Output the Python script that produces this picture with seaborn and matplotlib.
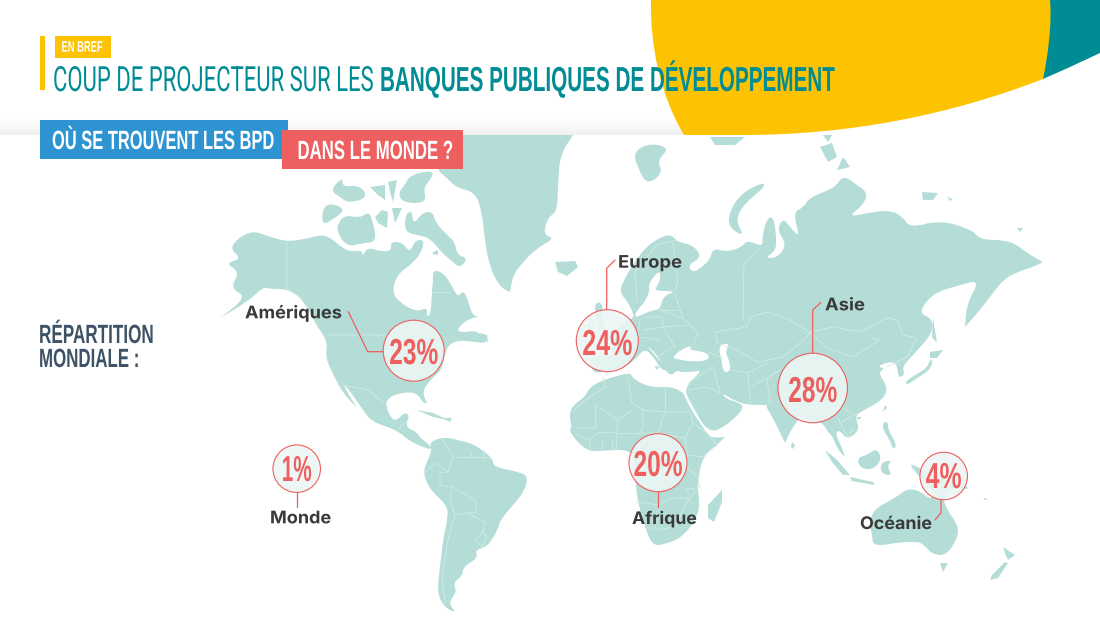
import numpy as np
import pandas as pd
import matplotlib
matplotlib.use('Agg')
import matplotlib.pyplot as plt
import matplotlib.patheffects as pe
from matplotlib.colors import LinearSegmentedColormap
from matplotlib.patches import PathPatch
from matplotlib.path import Path
from matplotlib.transforms import Affine2D
import seaborn as sns

# --- Data ---
regions = ['Amériques', 'Monde', 'Europe', 'Asie', 'Afrique', 'Océanie']
shares = [23, 1, 24, 28, 20, 4]
bubble_x = [413.7, 296.7, 607.3, 812.7, 658.0, 943.7]
bubble_y = [350.7, 468.7, 340.7, 388.0, 462.7, 476.0]

# --- Map outlines (x, y in image pixels) ---
north_america = [(250,230),(268,236),(287,242),(310,238),(320,235),(330,237),(347,252),(362,250),(363,257),(367,247),
    (382,252),(392,250),(390,242),(402,242),(410,253),(415,240),(425,240),(420,255),(412,263),(410,265),(397,275),
    (392,292),(400,303),(417,312),(427,307),(427,318),(431,313),(432,290),(433,282),(433,270),(442,272),(450,282),
    (458,298),(463,290),(468,300),(472,315),(480,317),(470,318),(457,328),(460,333),(477,330),(488,342),(480,343),
    (463,340),(450,343),(445,353),(442,370),(430,380),(422,392),(427,403),(427,403),(423,403),(417,393),(403,392),(387,398),
    (386,408),(393,421),(400,418),(403,413),(410,414),(405,427),(417,432),(420,438),(430,445),(432,450),(420,446),
    (408,440),(397,430),(372,422),(363,410),(347,387),(343,385),(357,408),(357,408),(343,393),(335,378),(325,357),(328,342),
    (315,323),(312,315),(300,297),(287,289),(270,289),(263,287),(250,300),(220,318),(220,318),(247,297),(230,288),(240,272),
    (225,263),(242,259),(228,247)]
south_america = [(430,445),(433,440),(447,437),(460,441),(472,443),(493,458),(493,467),(520,472),(528,477),(525,490),
    (515,503),(500,520),(498,530),(487,547),(475,550),(478,558),(463,567),(463,575),(453,583),(457,592),(448,603),
    (457,613),(445,608),(437,593),(440,567),(443,540),(448,517),(447,505),(430,490),(423,473),(427,462),(432,450)]
greenland = [(463,135),(463,135),(573,135),(573,135),(560,155),(558,185),(557,212),(548,217),(543,235),(555,238),(537,248),(523,262),
    (513,275),(510,292),(510,292),(500,287),(490,268),(485,242),(482,212),(475,192),(457,188),(447,178),(437,170),(440,160)]
africa = [(597,382),(588,390),(585,397),(573,405),(569,415),(572,428),(569,430),(577,442),(590,452),(610,450),(628,450),
    (635,458),(636,495),(645,527),(652,545),(663,545),(683,537),(697,517),(700,503),(697,487),(702,457),(717,445),
    (725,437),(725,437),(710,438),(703,427),(693,413),(683,393),(683,393),(675,388),(665,387),(652,387),(640,383),(632,377),(630,372)]
eurasia = [(592,373),(605,372),(625,367),(637,358),(643,350),(650,352),(663,372),(667,368),(650,350),(647,345),(660,358),
    (668,376),(677,372),(680,362),(672,362),(675,372),(693,372),(702,370),(692,380),(688,385),(685,392),(693,407),
    (708,433),(725,427),(745,408),(738,402),(728,400),(720,392),(737,402),(750,405),(770,405),(765,405),(773,418),
    (785,443),(785,443),(792,428),(802,415),(810,422),(822,422),(828,432),(833,437),(838,450),(845,457),(845,457),(842,448),(835,433),
    (840,430),(847,440),(860,430),(855,417),(860,412),(883,400),(888,387),(878,373),(885,368),(877,367),(887,362),
    (897,363),(898,378),(905,375),(902,367),(913,355),(933,333),(932,318),(918,313),(933,293),(960,285),(980,280),
    (967,303),(965,327),(965,327),(980,310),(993,293),(1003,280),(1017,272),(1033,267),(1043,262),(1043,262),(1030,255),(1010,240),(980,240),
    (973,230),(940,220),(910,228),(903,217),(890,210),(867,213),(848,217),(863,205),(868,193),(857,185),(843,175),
    (835,188),(810,197),(803,208),(793,212),(800,238),(790,227),(783,218),(777,230),(787,245),(777,258),(765,258),
    (773,253),(777,245),(774,217),(767,218),(762,237),(763,247),(747,240),(742,247),(727,252),(713,248),(710,260),
    (698,270),(692,272),(688,265),(702,257),(693,245),(677,242),(670,233),(650,243),(637,258),(622,283),(620,293),
    (628,302),(635,317),(628,320),(620,327),(610,332),(607,337),(617,347),(610,347),(615,357),(597,355),(590,358)]
australia = [(872,510),(897,497),(908,488),(922,492),(930,500),(942,490),(945,507),(958,525),(958,537),(947,555),(933,555),
    (922,543),(917,542),(900,542),(873,547),(872,533),(870,528)]
islands = [
    [(405,185),(410,175),(433,170),(432,178),(423,188),(427,203),(403,203),(398,193)],
    [(388,182),(397,180),(393,202),(390,192)],
    [(370,187),(385,185),(385,200),(378,195)],
    [(330,190),(343,177),(342,187),(360,185),(368,198),(348,203),(340,197)],
    [(325,205),(335,204),(345,210),(335,218),(323,225),(322,215)],
    [(338,223),(345,215),(360,218),(368,212),(372,218),(377,242),(363,243),(347,247),(337,232)],
    [(375,217),(382,210),(388,212),(387,228),(378,223)],
    [(392,208),(402,208),(395,223)],
    [(405,215),(412,210),(413,225),(423,212),(433,212),(435,222),(447,235),(455,242),(457,255),(468,258),(460,268),
     (453,262),(442,253),(430,238),(417,235),(405,232)],
    [(433,252),(438,250),(438,255),(433,254)],
    [(480,333),(487,335),(488,342),(483,340)],
    [(555,262),(575,261),(578,267),(567,276),(558,272)],
    [(417,410),(433,413),(448,420),(433,417)],
    [(442,418),(452,418),(450,422)],
    [(595,302),(603,303),(602,320),(607,330),(598,333),(600,323),(595,317)],
    [(592,318),(595,323),(592,330),(587,328)],
    [(722,490),(722,502),(714,522),(708,518),(708,505)],
    [(633,152),(650,143),(670,148),(657,160),(663,173),(647,185),(638,168)],
    [(710,137),(745,137),(735,145),(715,145)],
    [(823,135),(832,135),(828,142)],
    [(820,147),(832,143),(837,157),(828,162)],
    [(843,157),(850,167),(837,170)],
    [(763,182),(765,187),(745,203),(735,220),(745,237),(728,227),(730,210),(742,193)],
    [(922,192),(938,193),(933,200),(923,200)],
    [(947,197),(953,199),(950,201)],
    [(1017,228),(1023,228),(1020,232)],
    [(933,317),(937,343),(932,337)],
    [(930,352),(943,350),(937,358),(930,358)],
    [(933,360),(930,370),(917,378),(907,385),(905,382),(915,375),(927,368),(930,360)],
    [(885,405),(887,408),(883,412)],
    [(857,417),(862,417),(858,420)],
    [(883,422),(888,422),(888,430),(897,445),(893,450),(890,440),(883,430)],
    [(857,458),(867,455),(877,448),(882,460),(872,470),(860,468)],
    [(825,450),(837,460),(850,475),(843,475),(832,462)],
    [(850,477),(873,482),(875,485),(852,481)],
    [(882,462),(892,460),(887,466),(892,475),(885,475),(880,470)],
    [(908,463),(920,468),(943,480),(963,482),(970,490),(957,487),(940,497),(928,488),(920,477)],
    [(792,442),(795,445),(793,449),(791,447)],
    [(1003,547),(1015,555),(1008,560),(1005,553)],
    [(1005,562),(1008,563),(998,578),(990,580),(992,575)],
    [(940,563),(948,563),(943,572)],
    [(655,366),(660,367),(656,370)],
    [(983,497),(988,500),(985,500)],
]
inland_seas = [
    [(680,350),(693,345),(688,350),(707,352),(710,360),(693,362),(675,359),(673,357)],
    [(718,345),(730,343),(725,352),(730,362),(730,372),(723,372),(722,362)],
    [(648,285),(657,272),(661,273),(659,284),(653,291),(677,291),(663,296),(660,310),(652,310),(640,316),(634,317),
     (638,309),(645,302),(650,290)],
]
borders = [
    [(287,242),(287,289),(300,297),(312,315)],
    [(328,335),(383,335),(400,342)],
    [(432,292),(450,292)],
    [(343,385),(368,390),(383,402)],
    [(397,430),(408,420)],
    [(442,438),(453,457),(448,472),(440,473),(440,485),(452,487),(463,493),(475,500),(477,512),(467,513)],
    [(452,487),(450,500),(455,515),(467,513),(485,522),(483,532),(475,540),(482,547)],
    [(483,532),(487,537),(482,547)],
    [(455,515),(448,540),(442,577),(445,603)],
    [(424,473),(437,463),(448,472)],
    [(453,457),(470,457),(490,457)],
    [(470,450),(472,458)],[(483,450),(483,460)],
    [(603,377),(605,387),(588,398),(572,412)],
    [(628,378),(632,403),(643,410),(665,412),(690,412)],
    [(595,405),(618,420),(632,410)],
    [(595,405),(596,428),(577,428)],
    [(665,388),(665,412)],
    [(643,410),(643,427),(640,433),(658,433),(663,417),(665,412)],
    [(618,420),(617,432),(597,433),(590,440)],
    [(617,433),(616,450)],[(640,433),(617,433)],
    [(602,440),(602,450)],[(612,438),(612,450)],
    [(577,435),(590,440),(590,452)],
    [(690,412),(693,423),(685,438),(658,433)],
    [(693,423),(707,433),(717,445),(702,457),(687,455),(685,438)],
    [(658,433),(652,455),(660,480)],
    [(687,455),(688,468),(698,478),(700,487),(685,490)],
    [(636,502),(660,505),(670,498),(685,498),(692,503)],
    [(645,528),(655,528),(657,510)],
    [(655,530),(675,527),(683,510),(688,500)],
    [(688,487),(688,500),(697,490)],
    [(688,383),(713,367),(720,393)],
    [(688,390),(707,387),(720,393)],
    [(748,373),(750,397),(750,405)],
    [(732,370),(748,373),(767,363)],
    [(770,405),(767,378),(780,370)],
    [(750,387),(767,378)],
    [(715,332),(717,343),(737,350),(757,362),(783,357),(807,337),(810,332)],
    [(715,332),(747,327),(750,317),(768,312),(790,320),(810,332),(833,327),(860,332),(887,318),(897,320),(903,335),
     (917,338),(907,357),(887,367)],
    [(810,332),(827,348),(853,357),(880,340),(872,338)],
    [(825,422),(840,407),(853,413)],
    [(838,418),(848,438),(853,428)],
    [(840,423),(858,413)],
    [(675,295),(683,318),(698,333),(693,345)],
    [(660,310),(683,318)],[(663,327),(688,325)],
    [(643,317),(662,317),(663,327),(643,330)],
    [(663,327),(675,347)],[(660,340),(640,337)],
    [(640,320),(638,337)],
    [(677,240),(657,245),(635,272),(637,302)],
    [(673,243),(678,280),(675,290)],
    [(660,310),(678,310)],
    [(657,357),(673,347)],
    [(708,352),(723,358)],
    [(743,320),(744,263),(762,247)],
]

# --- Colours ---
LAND = '#B4DDD7'
BORDER = '#D3EBE7'
TEAL = '#008C95'
YELLOW = '#FDC300'
BLUE = '#2E93D1'
CORAL = '#EE5F5F'
DARK = '#3A3A3A'
SLATE = '#3E5266'

sns.set_theme(style='white')
NARROW = ['Liberation Sans Narrow', 'Liberation Sans', 'DejaVu Sans']
LABEL_FONT = ['Inter', 'Lato', 'DejaVu Sans']
LIGHT_FONT = ['Roboto', 'Liberation Sans', 'DejaVu Sans']

fig = plt.figure(figsize=(11, 6.28), dpi=100)
ax = fig.add_axes([0, 0, 1, 1])
ax.set_axis_off()


class Tall(pe.AbstractPathEffect):
    # no condensed font here, so the glyphs are stretched upward from the baseline
    def __init__(self, sy):
        super().__init__()
        self.sy = sy

    def draw_path(self, renderer, gc, tpath, affine, rgbFace=None):
        renderer.draw_path(gc, tpath, Affine2D().scale(1, self.sy) + affine, rgbFace)


def fit_text(x, baseline, s, width, cap, color, family=NARROW, weight='bold', ha='left', z=10):
    t = ax.text(x, baseline, s, color=color, family=family, weight=weight, fontsize=10,
                ha=ha, va='baseline', zorder=z)
    w = t.get_window_extent(fig.canvas.get_renderer()).width
    size = 10 * width / w
    t.set_fontsize(size)
    t.set_path_effects([Tall(cap / (0.72 * size * 100 / 72))])
    return t


def land_patch(points, color, z):
    # rounded coastlines: quadratic curves through the edge midpoints
    pts = np.array(points, dtype=float)
    if len(pts) < 6:
        return plt.Polygon(pts, closed=True, facecolor=color, lw=0, zorder=z)
    mids = (pts + np.roll(pts, -1, axis=0)) / 2
    verts = [mids[-1]]
    codes = [Path.MOVETO]
    for p, m in zip(pts, mids):
        verts += [p, m]
        codes += [Path.CURVE3, Path.CURVE3]
    return PathPatch(Path(verts, codes), facecolor=color, lw=0, zorder=z)


# --- Header shapes ---
ax.imshow(np.linspace(0, 1, 17).reshape(-1, 1), extent=(0, 690, 135, 118), aspect='auto', origin='upper',
          cmap=LinearSegmentedColormap.from_list('band', ['#FFFFFF', '#F1F1F1']), zorder=0)
ax.fill([1040, 1100, 1100, 1070, 1043], [0, 0, 53, 67, 79], color=TEAL, lw=0, zorder=1)
yellow = Path([(651, 0), (650, 45), (660, 95), (684, 135), (742, 135), (850, 135), (950, 115), (1043, 79),
               (1048, 55), (1052, 25), (1050, 0), (651, 0)],
              [Path.MOVETO, Path.CURVE4, Path.CURVE4, Path.CURVE4, Path.LINETO, Path.CURVE4, Path.CURVE4, Path.CURVE4,
               Path.CURVE4, Path.CURVE4, Path.CURVE4, Path.CLOSEPOLY])
ax.add_patch(PathPatch(yellow, facecolor=YELLOW, lw=0, zorder=2))

# --- Map ---
for shape in [north_america, south_america, greenland, africa, eurasia, australia] + islands:
    ax.add_patch(land_patch(shape, LAND, 3))
for shape in inland_seas:
    ax.add_patch(land_patch(shape, 'white', 4))
for line in borders:
    xs, ys = zip(*line)
    ax.plot(xs, ys, color=BORDER, lw=0.6, zorder=5)

# --- Bubbles ---
df = pd.DataFrame({'region': regions, 'share': shares, 'x': bubble_x, 'y': bubble_y})
diam = {23: 61, 1: 47.5, 24: 62, 28: 69.5, 20: 58, 4: 47.5}
sns.scatterplot(data=df, x='x', y='y', size='share', sizes={k: (v * 0.72) ** 2 for k, v in diam.items()},
                facecolor=(0.93, 0.97, 0.96, 0.88), edgecolor=CORAL, linewidth=0.8, legend=False, ax=ax, zorder=7)

# --- Leader lines ---
leaders = {
    'Amériques': ([348.3, 367.7, 382.7], [311.7, 351.7, 351.7]),
    'Monde': ([296.7, 296.7], [491.7, 507.3]),
    'Europe': ([615, 606.7, 606.7], [260, 268.3, 310]),
    'Asie': ([821, 812.7, 812.7], [302.3, 310, 353.3]),
    'Afrique': ([658, 658], [491.7, 507.3]),
    'Océanie': ([941, 941, 935], [499.3, 512.7, 520]),
}
for name in regions:
    ax.plot(*leaders[name], color=CORAL, lw=0.9, zorder=6)

# --- Labels ---
label_pos = {'Amériques': (245, 318.3, 97), 'Monde': (270, 523.3, 61), 'Europe': (618, 267.7, 64),
             'Asie': (825, 310.3, 40), 'Afrique': (632, 524, 65), 'Océanie': (860, 529, 72)}
for name in regions:
    px, py, w = label_pos[name]
    fit_text(px, py, name, w, 12.5, DARK, family=LABEL_FONT)

pct_width = {23: 49, 1: 30, 24: 50, 28: 49, 20: 49, 4: 36}
pct_base = {23: 364, 1: 481, 24: 355, 28: 402, 20: 476, 4: 488}
for share, cx in zip(shares, bubble_x):
    fit_text(cx, pct_base[share], f'{share}%', pct_width[share], 26, CORAL, ha='center')

fit_text(39, 343, 'RÉPARTITION', 114, 19, SLATE)
fit_text(39, 367, 'MONDIALE :', 100, 19, SLATE)

# --- Header text and boxes ---
ax.fill([40, 45, 45, 40], [36, 36, 90, 90], color=YELLOW, lw=0, zorder=8)
ax.fill([55, 111, 111, 55], [36, 36, 58, 58], color=YELLOW, lw=0, zorder=8)
fit_text(61.5, 51.7, 'EN BREF', 41, 11, 'white')
fit_text(53, 91, 'COUP DE PROJECTEUR SUR LES', 319, 25, TEAL, family=LIGHT_FONT, weight='normal')
fit_text(380, 91, 'BANQUES PUBLIQUES DE DÉVELOPPEMENT', 454, 25, TEAL)

ax.fill([40, 288, 288, 40], [120, 120, 159, 159], color=BLUE, lw=0, zorder=8)
ax.fill([282, 463, 463, 282], [130, 130, 169, 169], color=CORAL, lw=0, zorder=9)
fit_text(52, 149, 'OÙ SE TROUVENT LES BPD', 222, 19, 'white')
fit_text(297.5, 159, 'DANS LE MONDE ?', 155, 19, 'white')

ax.set_xlim(0, 1100)
ax.set_ylim(628, 0)
ax.set_xlabel('')
ax.set_ylabel('')
fig.savefig('out.png', dpi=100, facecolor='white')
plt.close(fig)
